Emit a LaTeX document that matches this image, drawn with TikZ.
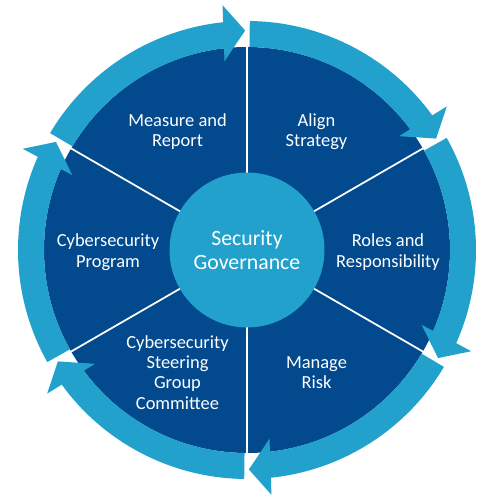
\documentclass[tikz,border=0pt]{standalone}
\usepackage{fontspec}
\setmainfont{Carlito}
\usepackage{xcolor}
\usetikzlibrary{positioning}
\definecolor{govdark}{RGB}{2,73,142}
\definecolor{govlight}{RGB}{33,161,204}

\begin{document}
\begin{tikzpicture}[
    scale=0.02,
    every node/.style={text=white, align=center},
    step label/.style={font=\fontsize{10.5}{11.5}\selectfont, yshift=-1.2pt},
    hub/.style={circle, fill=govlight, minimum size=3.1cm, inner sep=0pt,
                font=\fontsize{12.4}{14}\selectfont},
    divider/.style={draw=white, line width=1pt},
    ring arrow/.style={fill=govlight},
  ]
  \useasboundingbox (-247,-250) rectangle (253,250);

  % ============ DARK DISK ============
  \fill[govdark] (0,0) circle[radius=203];

  % ============ DIVIDERS ============
  \foreach \a in {30,90,...,330}
    \draw[divider] (0,0) -- (\a:219);

  % ============ CYCLE ARROWS (clockwise) ============
  % tail just after divider \a, tip just before divider \a-60
  \foreach \a in {90,30,...,-210}
    \fill[ring arrow]
      (\a-0.7:229) arc[start angle=\a-0.7, end angle=\a-54, radius=229]
      -- (\a-54.3:246) -- (\a-59.5:219.5) -- (\a-53.2:190)
      -- (\a-53.5:203) arc[start angle=\a-53.5, end angle=\a-0.7, radius=203]
      -- cycle;

  % ============ HUB ============
  \node[hub] (gov) at (0,0) {Security\\Governance};

  % ============ STEP LABELS ============
  \node[step label] (align)   at (60:139)  {Align\\Strategy};
  \node[step label] (roles)   at (0:141)   {Roles and\\Responsibility};
  \node[step label] (risk)    at (-60:139) {Manage\\Risk};
  \node[step label] (steer)   at (240:139) {Cybersecurity\\Steering\\Group\\Committee};
  \node[step label] (program) at (180:139) {Cybersecurity\\Program};
  \node[step label] (measure) at (120:139) {Measure and\\Report};

\end{tikzpicture}
\end{document}
